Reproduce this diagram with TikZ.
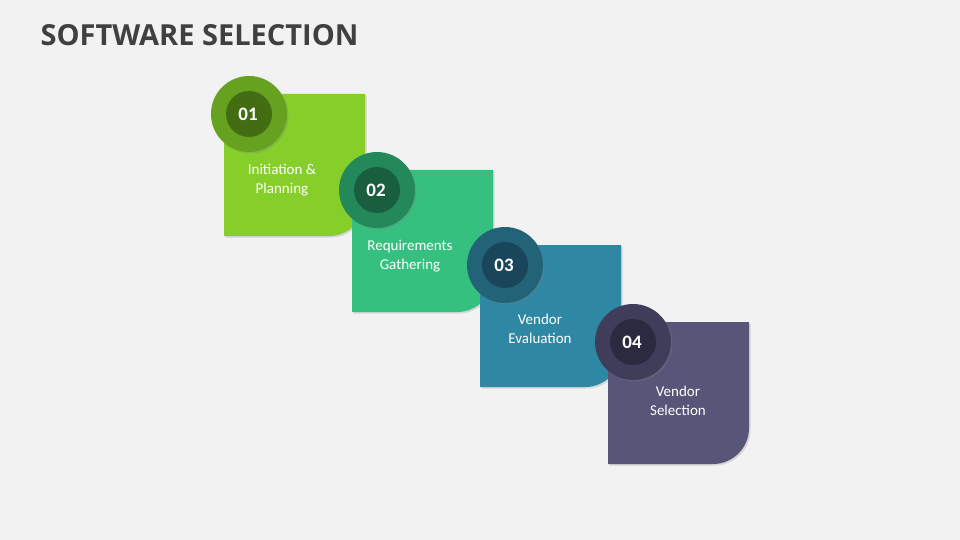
\documentclass[tikz,border=0pt]{standalone}
\usepackage{fontspec}
\setmainfont{Carlito}
\newfontfamily\titlefont{Open Sans}
\usetikzlibrary{shadows}
\definecolor{bg}{HTML}{F2F2F2}
\definecolor{cA}{HTML}{86CF2A}\definecolor{cAo}{HTML}{66A11F}\definecolor{cAi}{HTML}{426D13}
\definecolor{cB}{HTML}{35C07F}\definecolor{cBo}{HTML}{23895A}\definecolor{cBi}{HTML}{1A5E40}
\definecolor{cC}{HTML}{2E87A3}\definecolor{cCo}{HTML}{236377}\definecolor{cCi}{HTML}{19465A}
\definecolor{cD}{HTML}{575578}\definecolor{cDo}{HTML}{3F3D5A}\definecolor{cDi}{HTML}{2B2A40}
\tikzset{
 card/.style={draw=none,drop shadow={opacity=0.25,shadow xshift=1.5pt,shadow yshift=-1.5pt}},
 lab/.style={text=white,font=\fontsize{15}{19}\selectfont,align=center},
 num/.style={text=white,font=\bfseries\fontsize{19}{20}\selectfont}
}
\newcommand{\mystep}[7]{% x y fill outer inner num text
 \fill[#3,card] (#1,#2) -- ++(141,0) -- ++(0,-106) arc[start angle=0,end angle=-90,radius=36] -- ++(-105,0) -- cycle;
 \fill[#4,drop shadow={opacity=0.3,shadow xshift=1.5pt,shadow yshift=-1.5pt}] (#1+25,#2-20) circle[radius=38];
 \fill[#5] (#1+25,#2-20) circle[radius=23];
 \node[num] (n#6) at (#1+24,#2-20) {#6};
 \node[lab] (t#6) at (#1+#7) {};
}
\begin{document}
\begin{tikzpicture}[x=1pt,y=1pt]
\fill[bg] (0,0) rectangle (960,-540);
\useasboundingbox (0,0) rectangle (960,-540);
\node[anchor=west,text=black!75,font=\titlefont\bfseries\fontsize{29}{32}\selectfont] (title) at (37,-35) {SOFTWARE SELECTION};
\mystep{224}{-94}{cA}{cAo}{cAi}{01}{58,-86}
\node[lab] (tA) at (282,-180) {Initiation \&\\Planning};
\mystep{352}{-170}{cB}{cBo}{cBi}{02}{58,-86}
\node[lab] (tB) at (410,-256) {Requirements\\Gathering};
\mystep{480}{-245}{cC}{cCo}{cCi}{03}{58,-86}
\node[lab] (tC) at (540,-329) {Vendor\\Evaluation};
\mystep{608}{-322}{cD}{cDo}{cDi}{04}{58,-86}
\node[lab] (tD) at (678,-401) {Vendor\\Selection};
\end{tikzpicture}
\end{document}
